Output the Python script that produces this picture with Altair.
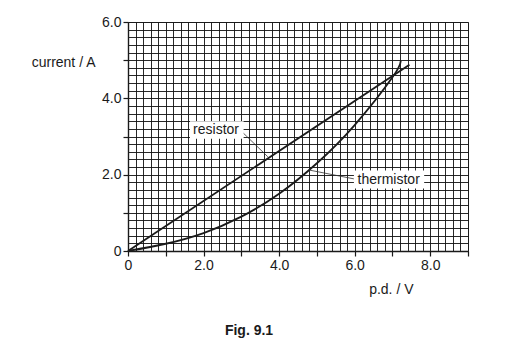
import altair as alt
import pandas as pd

# data
res_v = [0.0, 7.45]
res_i = [0.0, 4.88]
th_v = [0.0, 1.0, 2.0, 3.0, 4.0, 5.0, 6.0, 7.0, 7.22]
th_i = [0.0, 0.19, 0.47, 0.9, 1.5, 2.3, 3.3, 4.55, 4.98]

grid_x = [round(i * 0.2, 1) for i in range(46)]
grid_y = [round(i * 0.2, 1) for i in range(31)]

lab_text = ["resistor", "thermistor"]
lab_v = [2.33, 6.9]
lab_i = [3.17, 1.86]
box_v1 = [1.64, 5.98]
box_v2 = [3.06, 7.84]
box_i1 = [2.94, 1.64]
box_i2 = [3.40, 2.11]
lead_v1 = [3.0, 4.8]
lead_i1 = [3.14, 2.12]
lead_v2 = [3.70, 5.98]
lead_i2 = [2.47, 1.89]

FONT = "Liberation Sans"
INK = "#1a1a1a"

curves = pd.DataFrame(
    {"v": res_v + th_v, "i": res_i + th_i,
     "s": ["resistor"] * len(res_v) + ["thermistor"] * len(th_v)}
)
labels = pd.DataFrame({"t": lab_text, "v": lab_v, "i": lab_i,
                       "v1": box_v1, "v2": box_v2, "i1": box_i1, "i2": box_i2,
                       "lv1": lead_v1, "li1": lead_i1, "lv2": lead_v2, "li2": lead_i2})

label_expr = "datum.value % 2 === 0 ? (datum.value === 0 ? '0' : format(datum.value, '.1f')) : ''"
tick_op = alt.condition("datum.value % 1 === 0", alt.value(1), alt.value(0))

xscale = alt.Scale(domain=[0, 9], nice=False, zero=False)
yscale = alt.Scale(domain=[0, 6], nice=False, zero=False)

common = dict(labelExpr=label_expr, tickOpacity=tick_op, tickCount=200,
              grid=True, gridColor="#111111", gridWidth=1, gridOpacity=0.9,
              tickSize=5, tickColor=INK, tickWidth=1.2,
              domainColor=INK, domainWidth=1.4,
              labelFont=FONT, labelFontSize=14, labelColor=INK, labelPadding=2,
              labelFlush=False, labelOverlap=False,
              titleFont=FONT, titleFontSize=14, titleFontWeight="normal",
              titleColor=INK, titleAlign="right", titleBaseline="alphabetic",
              titleAnchor="start")

xaxis = alt.Axis(values=grid_x, labelAngle=0, title="p.d. / V",
                 titleX=285, titleY=42, **common)
yaxis = alt.Axis(values=grid_y, title="current / A", titleAngle=0,
                 titleX=-33, titleY=44, **common)

base = alt.Chart(curves)

lines = base.mark_line(color=INK, strokeWidth=1.8, interpolate="natural", clip=False).encode(
    x=alt.X("v:Q", scale=xscale, axis=xaxis),
    y=alt.Y("i:Q", scale=yscale, axis=yaxis),
    detail="s:N",
)

lab = alt.Chart(labels)
leaders = lab.mark_rule(color="#333333", strokeWidth=0.8).encode(
    x="lv1:Q", y="li1:Q", x2="lv2:Q", y2="li2:Q")
boxes = lab.mark_rect(color="white").encode(x="v1:Q", x2="v2:Q", y="i1:Q", y2="i2:Q")
texts = lab.mark_text(font=FONT, fontSize=14, color=INK, baseline="middle", align="center").encode(
    x="v:Q", y="i:Q", text="t:N")

caption = alt.Chart(pd.DataFrame({"c": ["Fig. 9.1"]})).mark_text(
    font=FONT, fontSize=14, fontWeight="bold", color=INK, align="center", baseline="alphabetic"
).encode(x=alt.value(121), y=alt.value(313), text="c:N")

chart = alt.layer(lines, leaders, boxes, texts, caption).properties(
    width=340, height=229,
    autosize=alt.AutoSizeParams(type="none"),
    padding={"left": 128, "top": 22, "right": 48, "bottom": 101},
    background="white",
).configure_view(stroke="#777777", strokeWidth=1)

chart.save("out.html", embed_options={"renderer": "svg", "actions": False})
